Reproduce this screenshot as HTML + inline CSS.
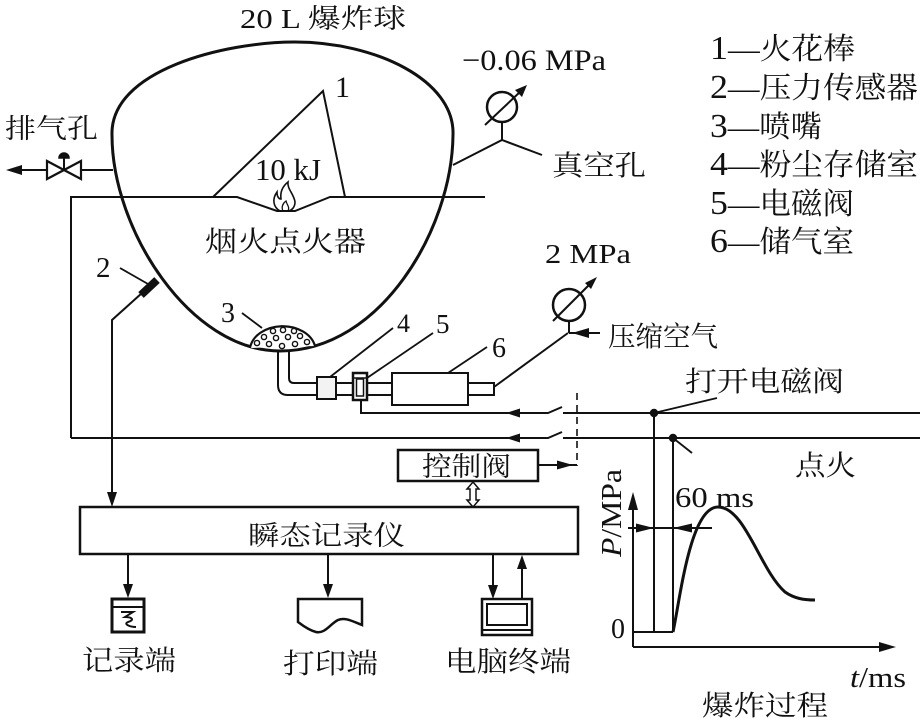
<!DOCTYPE html>
<html>
<head>
<meta charset="utf-8">
<style>
html,body{margin:0;padding:0;background:#fff;}
svg{display:block;}
text{font-family:"Liberation Serif","Noto Serif CJK SC",serif;fill:#111;}
.n{font-family:"Liberation Serif",serif;}
</style>
</head>
<body>
<svg width="920" height="721" viewBox="0 0 920 721" xmlns="http://www.w3.org/2000/svg">
<rect width="920" height="721" fill="#fff"/>
<g fill="none" stroke="#111" stroke-width="2" stroke-linejoin="miter">
  <!-- Sphere -->
  <path d="M112,135 C110,70 225,42 295,42 C375,42 455,80 453,135 C452,230 380,351 280,351 C190,351 112,230 112,135 Z" stroke-width="3"/>

  <!-- Vent -->
  <line x1="20" y1="170" x2="47" y2="170"/>
  <line x1="81" y1="170" x2="113" y2="170"/>
  <path d="M47,161 L47,179 L81,161 L81,179 Z" fill="#fff" stroke-width="2.2"/>
  <line x1="64" y1="170" x2="64" y2="157"/>
  <path d="M59,158 A5,5 0 0 1 69,158 Z" fill="#111" stroke-width="1.5"/>

  <!-- Vacuum gauge -->
  <circle cx="502" cy="107" r="15" stroke-width="2.5"/>
  <line x1="485" y1="125" x2="521" y2="91"/>
  <line x1="502" y1="122" x2="502" y2="140"/>
  <polyline points="453,165 502,140 542,155"/>

  <!-- Igniter wiring -->
  <polyline points="71,438 71,197 237,197 277,211 295,211 330,197 485,197"/>
  <polyline points="213,197 323,91 345,197"/>
  <path d="M280,211 C273,207 272,199 277,192 C277,197 279,199 281,199 C280,192 283,186 288,182 C287,189 294,194 295,202 C295,207 292,210 289,211" stroke-width="1.6"/>
  <path d="M283,211 C281,207 283,203 286,201 C287,205 290,207 288,211" stroke-width="1.3"/>

  <!-- Pressure sensor -->
  <polyline points="112,495 112,320 142,293"/>
  <line x1="141" y1="295" x2="157" y2="280" stroke-width="8"/>
  <line x1="120" y1="268" x2="148" y2="284" stroke-width="1.8"/>

  <!-- Nozzle -->
  <path d="M250,348 A33,25 0 0 1 315,346" fill="#fff" stroke-width="2.2"/>
  <g stroke-width="1.4">
    <circle cx="273" cy="331" r="2.6"/><circle cx="283" cy="330" r="2.6"/><circle cx="294" cy="331" r="2.6"/>
    <circle cx="264" cy="337" r="2.6"/><circle cx="276" cy="338" r="2.6"/><circle cx="288" cy="337" r="2.6"/><circle cx="300" cy="336" r="2.6"/>
    <circle cx="257" cy="343" r="2.6"/><circle cx="269" cy="344" r="2.6"/><circle cx="282" cy="346" r="2.6"/><circle cx="295" cy="344" r="2.6"/><circle cx="307" cy="342" r="2.6"/>
  </g>
  <line x1="242" y1="313" x2="262" y2="328" stroke-width="1.8"/>

  <!-- Pipe -->
  <path d="M278,350 L278,385 Q278,395 288,395 L317,395"/>
  <path d="M289,350 L289,378 Q289,383 294,383 L317,383"/>
  <rect x="317" y="377" width="19" height="22" fill="#f3f3f3"/>
  <line x1="336" y1="383" x2="353" y2="383"/>
  <line x1="336" y1="395" x2="353" y2="395"/>
  <rect x="353" y="373" width="14" height="27" fill="#fff" stroke-width="2.5"/>
  <rect x="356.5" y="379" width="7" height="17" stroke-width="1.5"/>
  <line x1="353" y1="378" x2="367" y2="378" stroke-width="1.5"/>
  <line x1="367" y1="383" x2="392" y2="383"/>
  <line x1="367" y1="395" x2="392" y2="395"/>
  <rect x="392" y="373" width="76" height="32" fill="#fff"/>
  <path d="M468,383 L494,383 L494,395 L468,395"/>
  <line x1="494" y1="387" x2="568" y2="333"/>

  <!-- labels leaders 4,5,6 -->
  <line x1="393" y1="328" x2="330" y2="377" stroke-width="1.8"/>
  <line x1="433" y1="333" x2="367" y2="378" stroke-width="1.8"/>
  <line x1="487" y1="347" x2="448" y2="373" stroke-width="1.8"/>

  <!-- 2 MPa gauge -->
  <circle cx="569" cy="305" r="16" stroke-width="2.5"/>
  <line x1="553" y1="321" x2="591" y2="283"/>
  <line x1="569" y1="321" x2="569" y2="333"/>
  <line x1="569" y1="333" x2="600" y2="333"/>

  <!-- Wires -->
  <polyline points="361,400 361,413 548,413 562,407"/>
  <line x1="563" y1="413" x2="920" y2="413"/>
  <polyline points="71,438 548,438 562,432"/>
  <line x1="563" y1="438" x2="920" y2="438"/>
  <line x1="577" y1="393" x2="577" y2="466" stroke-dasharray="7,5" stroke-width="1.6"/>

  <!-- Control valve -->
  <rect x="398" y="450" width="140" height="31" stroke-width="2.5"/>
  <line x1="538" y1="465" x2="577" y2="465"/>
  <path d="M473,482 L479,489 L476,489 L476,500 L479,500 L473,507 L467,500 L470,500 L470,489 L467,489 Z" fill="#fff" stroke-width="1.5"/>

  <!-- Recorder -->
  <rect x="80" y="507" width="498" height="47" stroke-width="2.5"/>
  <line x1="128" y1="554" x2="128" y2="588"/>
  <line x1="328" y1="554" x2="328" y2="588"/>
  <line x1="493" y1="554" x2="493" y2="589"/>
  <line x1="522" y1="599" x2="522" y2="565"/>

  <!-- Record icon -->
  <rect x="112" y="599" width="32" height="33" stroke-width="3"/>
  <line x1="112" y1="607" x2="144" y2="607" stroke-width="2"/>
  <path d="M121,612 L133,612 L125,617 C132,617 135,620 128,622 C123,624 130,627 136,627" stroke-width="2"/>

  <!-- Printer icon -->
  <path d="M298,599 L362,599 L362,625 C352,621 345,617 338,620 C330,624 325,634 316,632 C308,630 302,625 298,622 Z" stroke-width="2.5"/>

  <!-- Computer icon -->
  <rect x="482" y="599" width="50" height="36" stroke-width="2.5"/>
  <rect x="487" y="604" width="40" height="21" stroke-width="2"/>
  <line x1="482" y1="630" x2="532" y2="630" stroke-width="2"/>

  <!-- Chart -->
  <line x1="633" y1="647" x2="633" y2="505"/>
  <line x1="633" y1="647" x2="884" y2="647"/>
  <line x1="633" y1="632" x2="673" y2="632"/>
  <line x1="654" y1="413" x2="654" y2="632"/>
  <line x1="673" y1="438" x2="673" y2="632"/>
  <line x1="654" y1="413" x2="717" y2="398" stroke-width="1.8"/>
  <line x1="673" y1="438" x2="692" y2="453" stroke-width="1.8"/>
  <path d="M673,632 C680,600 690,507 718,507 C745,507 760,570 785,592 C795,599 805,600 815,600" stroke-width="3"/>
  <line x1="628" y1="528" x2="712" y2="528"/>
</g>

<!-- Filled arrowheads and dots -->
<g fill="#111" stroke="none">
  <polygon points="6,170 22,165 22,175"/>
  <polygon points="527,85 515,90 522,97"/>
  <polygon points="597,277 585,283 591,289"/>
  <polygon points="572,333 589,328 589,338"/>
  <polygon points="112,507 107,492 117,492"/>
  <polygon points="506,413 520,408.5 520,417.5"/>
  <polygon points="506,438 520,433.5 520,442.5"/>
  <polygon points="573,465 557,460.5 557,469.5"/>
  <polygon points="128,598 123,584 133,584"/>
  <polygon points="328,598 323,584 333,584"/>
  <polygon points="493,599 488,585 498,585"/>
  <polygon points="522,555 517,569 527,569"/>
  <polygon points="633,492 628,510 638,510"/>
  <polygon points="896,647 879,642 879,652"/>
  <polygon points="654,528 636,523.5 636,532.5"/>
  <polygon points="673,528 692,523.5 692,532.5"/>
  <circle cx="654" cy="413" r="4.2"/>
  <circle cx="673" cy="438" r="4.2"/>
</g>

<!-- Text -->
<text x="240" y="28" font-size="27" textLength="166" lengthAdjust="spacingAndGlyphs">20 L 爆炸球</text>
<text x="5" y="138" font-size="27" textLength="93" lengthAdjust="spacingAndGlyphs">排气孔</text>
<text x="462" y="70" font-size="30" textLength="144" lengthAdjust="spacingAndGlyphs">−0.06 MPa</text>
<text x="552" y="175" font-size="28" textLength="94" lengthAdjust="spacingAndGlyphs">真空孔</text>
<text class="n" x="335" y="97" font-size="30">1</text>
<text x="255" y="180" font-size="31" textLength="66" lengthAdjust="spacingAndGlyphs">10 kJ</text>
<text x="205" y="251" font-size="28" textLength="161" lengthAdjust="spacingAndGlyphs">烟火点火器</text>
<text class="n" x="96" y="277" font-size="29">2</text>
<text class="n" x="221" y="322" font-size="28">3</text>
<text class="n" x="397" y="332" font-size="26">4</text>
<text class="n" x="436" y="333" font-size="27">5</text>
<text class="n" x="492" y="357" font-size="28">6</text>
<text x="545" y="263" font-size="27" textLength="86" lengthAdjust="spacingAndGlyphs">2 MPa</text>
<text x="608" y="346" font-size="28" textLength="110" lengthAdjust="spacingAndGlyphs">压缩空气</text>
<text x="685" y="391" font-size="28" textLength="159" lengthAdjust="spacingAndGlyphs">打开电磁阀</text>
<text x="795" y="475" font-size="28" textLength="61" lengthAdjust="spacingAndGlyphs">点火</text>
<text x="422" y="476" font-size="27" textLength="89" lengthAdjust="spacingAndGlyphs">控制阀</text>
<text x="248" y="545" font-size="27" textLength="157" lengthAdjust="spacingAndGlyphs">瞬态记录仪</text>
<text x="82" y="670" font-size="28" textLength="94" lengthAdjust="spacingAndGlyphs">记录端</text>
<text x="283" y="673" font-size="28" textLength="95" lengthAdjust="spacingAndGlyphs">打印端</text>
<text x="445" y="671" font-size="28" textLength="126" lengthAdjust="spacingAndGlyphs">电脑终端</text>
<text x="702" y="715" font-size="28" textLength="126" lengthAdjust="spacingAndGlyphs">爆炸过程</text>
<text x="675" y="507" font-size="28" textLength="79" lengthAdjust="spacingAndGlyphs">60 ms</text>
<text class="n" x="611" y="638" font-size="28">0</text>
<text x="850" y="687" font-size="28" textLength="56" lengthAdjust="spacingAndGlyphs"><tspan font-style="italic">t</tspan>/ms</text>
<text transform="translate(621,557) rotate(-90)" font-size="28" textLength="88" lengthAdjust="spacingAndGlyphs"><tspan font-style="italic">P</tspan>/MPa</text>

<!-- Legend -->
<text x="710" y="59" font-size="30" textLength="145" lengthAdjust="spacingAndGlyphs"><tspan class="n" font-size="34">1</tspan>—火花棒</text>
<text x="710" y="98" font-size="30" textLength="208" lengthAdjust="spacingAndGlyphs"><tspan class="n" font-size="34">2</tspan>—压力传感器</text>
<text x="710" y="137" font-size="30" textLength="112" lengthAdjust="spacingAndGlyphs"><tspan class="n" font-size="34">3</tspan>—喷嘴</text>
<text x="710" y="175" font-size="30" textLength="208" lengthAdjust="spacingAndGlyphs"><tspan class="n" font-size="34">4</tspan>—粉尘存储室</text>
<text x="710" y="214" font-size="30" textLength="144" lengthAdjust="spacingAndGlyphs"><tspan class="n" font-size="34">5</tspan>—电磁阀</text>
<text x="710" y="252" font-size="30" textLength="144" lengthAdjust="spacingAndGlyphs"><tspan class="n" font-size="34">6</tspan>—储气室</text>
</svg>
</body>
</html>
